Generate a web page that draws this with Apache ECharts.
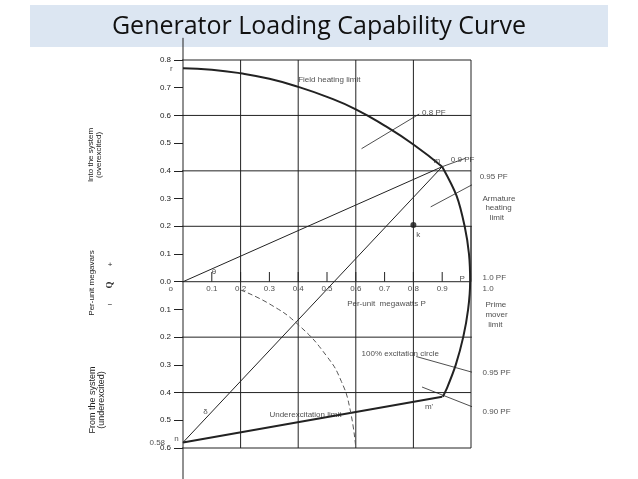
<!DOCTYPE html>
<html>
<head>
    <meta charset="utf-8">
    <script src="https://cdnjs.cloudflare.com/ajax/libs/echarts/6.0.0/echarts.min.js"></script>
</head>
<body>
    <div id="main"></div>
    <style>
html,body,#main { height: 100%; margin: 0; padding: 0; background: #fff; }
    </style>
    <script type="text/javascript">
var xTicks = [0.1, 0.2, 0.3, 0.4, 0.5, 0.6, 0.7, 0.8, 0.9];
var gridQ = [0.8, 0.6, 0.4, 0.2, 0, -0.2, -0.4, -0.6];
var gridP = [0.2, 0.4, 0.6, 0.8, 1.0];
var fieldHeating = [[0, 0.77], [0.1, 0.765], [0.2, 0.752], [0.3, 0.732], [0.4, 0.703], [0.5, 0.667], [0.6, 0.622], [0.7, 0.563], [0.8, 0.495], [0.9, 0.415]];
var armatureHeating = [[0.9, 0.415], [0.95, 0.31], [0.978, 0.2], [0.993, 0.1], [0.997, 0], [0.99, -0.1], [0.973, -0.2], [0.947, -0.3], [0.918, -0.38], [0.902, -0.415]];
var underExcitation = [[0, -0.58], [0.9, -0.415]];
var excitationCircle = [[0.2, -0.03], [0.3, -0.08], [0.4, -0.155], [0.5, -0.27], [0.55, -0.36], [0.58, -0.46], [0.6, -0.6]];
var pfLines = [
    [[0, 0], [0.9, 0.415]],
    [[0, -0.58], [0.9, 0.415]]
];
var leaders = [
    [[0.62, 0.48], [0.82, 0.605]],
    [[0.9, 0.415], [0.98, 0.445]],
    [[0.86, 0.27], [1.04, 0.37]],
    [[1.0, 0.2], [1.06, 0.2]],
    [[1.0, -0.2], [1.06, -0.2]],
    [[1.0, 0.2], [1.0, 0]],
    [[0.81, -0.27], [1.05, -0.34]],
    [[0.83, -0.38], [1.05, -0.47]]
];
var pointK = [[0.8, 0.205]];
var annotations = [
    [0.4, 0.73, 'Field heating limit'],
    [0.83, 0.61, '0.8 PF'],
    [0.87, 0.435, 'm'],
    [0.93, 0.44, '0.9 PF'],
    [1.03, 0.38, '0.95 PF'],
    [1.04, 0.3, 'Armature'],
    [1.05, 0.265, 'heating'],
    [1.065, 0.23, 'limit'],
    [0.81, 0.17, 'k'],
    [0.96, 0.012, 'P'],
    [1.04, 0.015, '1.0 PF'],
    [1.04, -0.025, '1.0'],
    [1.05, -0.085, 'Prime'],
    [1.05, -0.12, 'mover'],
    [1.06, -0.155, 'limit'],
    [0.57, -0.08, 'Per-unit  megawatts P'],
    [0.62, -0.26, '100% excitation circle'],
    [1.04, -0.33, '0.95 PF'],
    [1.04, -0.47, '0.90 PF'],
    [0.3, -0.48, 'Underexcitation limit'],
    [0.84, -0.45, "m'"],
    [-0.03, -0.565, 'n'],
    [0.07, -0.47, 'δ'],
    [0.1, 0.035, 'θ'],
    [-0.05, -0.025, 'o'],
    [-0.045, 0.77, 'r']
];

var ink = '#222';
function seg(points, width, dashed) {
    return {
        type: 'line', data: points, symbol: 'none', smooth: false, silent: true, clip: false,
        lineStyle: { color: ink, width: width, type: dashed ? [5, 3] : 'solid' }
    };
}

var series = [];
gridQ.forEach(function (q) { series.push(seg([[-0.025, q], [1.0, q]], 1)); });
gridP.forEach(function (p) { series.push(seg([[p, 0.8], [p, -0.6]], 1)); });
series.push(seg([[0, 0.88], [0, -0.72]], 1));
xTicks.forEach(function (p) { series.push(seg([[p, 0], [p, 0.035]], 1)); });
pfLines.forEach(function (l) { series.push(seg(l, 1)); });
leaders.forEach(function (l) { series.push(seg(l, 0.8)); });
series.push(Object.assign(seg(fieldHeating, 2), { smooth: true }));
series.push(Object.assign(seg(armatureHeating, 2), { smooth: 0.3 }));
series.push(seg(underExcitation, 2));
series.push(Object.assign(seg(excitationCircle, 1, true), { smooth: true, lineStyle: { color: '#555', width: 1, type: [5, 3] } }));
series.push({
    type: 'scatter', data: pointK, symbolSize: 6, itemStyle: { color: '#111' }, silent: true
});
series.push({
    type: 'scatter', silent: true, symbolSize: 0, clip: false,
    data: xTicks.map(function (v) { return [v, -0.025, v.toFixed(1)]; }),
    label: { show: true, position: 'inside', formatter: function (p) { return p.data[2]; },
             color: ink, fontSize: 8, fontFamily: 'Liberation Sans' }
});
series.push({
    type: 'scatter', silent: true, symbolSize: 0, clip: false,
    data: [[-0.045, -0.58, '0.58']],
    label: { show: true, position: 'left', formatter: function (p) { return p.data[2]; },
             color: ink, fontSize: 8, fontFamily: 'Liberation Sans' }
});
series.push({
    type: 'scatter', silent: true, symbolSize: 0, clip: false,
    data: annotations,
    label: { show: true, position: 'right', distance: 0, formatter: function (p) { return p.data[2]; },
             color: ink, fontSize: 8,
             fontFamily: 'Liberation Sans' }
});

var option = {
    animation: false,
    grid: { left: 183, right: 167, top: 60, bottom: 31, containLabel: false },
    xAxis: { type: 'value', min: 0, max: 1, show: false },
    yAxis: {
        type: 'value', min: -0.6, max: 0.8, interval: 0.1,
        axisLine: { show: false },
        axisTick: { show: true, length: 9, lineStyle: { color: ink } },
        splitLine: { show: false },
        axisLabel: { color: ink, fontSize: 8, fontFamily: 'Liberation Sans', margin: 12,
                     formatter: function (v) { return Math.abs(v).toFixed(1); } }
    },
    graphic: [
        { type: 'rect', shape: { x: 30, y: 5, width: 578, height: 42 }, style: { fill: '#dce6f2' } },
        { type: 'text', x: 319, y: 27, style: { text: 'Generator Loading Capability Curve', fill: '#111',
            font: '25px "Open Sans"', align: 'center', verticalAlign: 'middle' } },
        { type: 'text', x: 95, y: 155, rotation: Math.PI / 2, style: { text: 'Into the system\n(overexcited)',
            fill: ink, font: '8px "Liberation Sans"', align: 'center', verticalAlign: 'middle' } },
        { type: 'text', x: 92, y: 283, rotation: Math.PI / 2, style: { text: 'Per-unit megavars',
            fill: ink, font: '8px "Liberation Sans"', align: 'center', verticalAlign: 'middle' } },
        { type: 'text', x: 110, y: 285, rotation: Math.PI / 2, style: { text: 'Q',
            fill: ink, font: 'bold 9px "Liberation Serif"', align: 'center', verticalAlign: 'middle' } },
        { type: 'text', x: 110, y: 265, style: { text: '+', fill: ink, font: '8px "Liberation Sans"', align: 'center', verticalAlign: 'middle' } },
        { type: 'text', x: 110, y: 305, style: { text: '−', fill: ink, font: '8px "Liberation Sans"', align: 'center', verticalAlign: 'middle' } },
        { type: 'text', x: 97, y: 400, rotation: Math.PI / 2, style: { text: 'From the system\n(underexcited)',
            fill: ink, font: '9px "Liberation Sans"', align: 'center', verticalAlign: 'middle' } }
    ],
    series: series
};
var chart = echarts.init(document.getElementById('main'));
chart.setOption(option);
    </script>
</body>
</html>
